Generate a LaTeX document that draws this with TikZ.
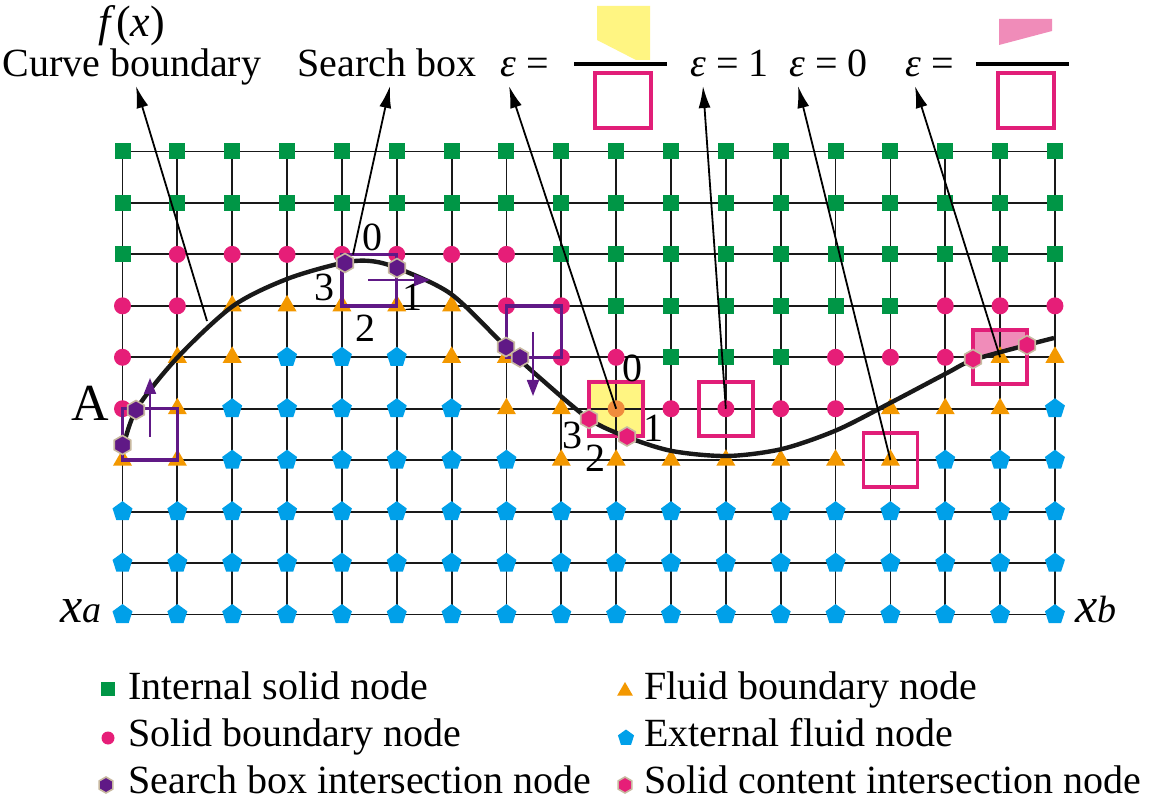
\documentclass[tikz,border=0pt]{standalone}
\usepackage{fontspec}
\setmainfont{Liberation Serif}
\usetikzlibrary{shapes.geometric,arrows.meta}
\pgfdeclarelayer{bg}
\pgfsetlayers{bg,main}
\definecolor{cgreen}{RGB}{0,150,70}
\definecolor{cpink}{RGB}{230,30,120}
\definecolor{cbox}{RGB}{225,30,120}
\definecolor{corange}{RGB}{243,152,0}
\definecolor{cblue}{RGB}{0,160,233}
\definecolor{cpurple}{RGB}{96,25,134}
\definecolor{chex}{RGB}{200,185,160}
\definecolor{cyel}{RGB}{255,245,130}
\definecolor{cpinkfill}{RGB}{240,140,185}
\definecolor{cdot}{RGB}{240,140,60}
\newcommand\gridrow[2]{%
  \foreach \t [count=\c from 0] in {#2} {%
    \node[mk\t] (n#1-\c) at ({122.5+54.85*\c},{151.5+51.45*#1}) {};}}
\begin{document}
\begin{tikzpicture}[x=0.5pt,y=-0.5pt,
  mkG/.style={rectangle,fill=cgreen,minimum size=8pt,inner sep=0pt},
  mkP/.style={circle,fill=cpink,minimum size=8.5pt,inner sep=0pt},
  mkY/.style={circle,fill=cdot,minimum size=8.5pt,inner sep=0pt},
  mkO/.style={regular polygon,regular polygon sides=3,fill=corange,minimum size=11pt,inner sep=0pt},
  mkB/.style={regular polygon,regular polygon sides=5,fill=cblue,minimum size=10.5pt,inner sep=0pt},
  hexS/.style={regular polygon,regular polygon sides=6,regular polygon rotate=30,fill=cpurple,draw=chex,line width=0.8pt,minimum size=9.5pt,inner sep=0pt},
  hexC/.style={hexS,fill=cpink},
  gl/.style={line width=0.9pt,black!90},
  pbox/.style={draw=cpurple,line width=1.7pt},
  sqbox/.style={draw=cbox,line width=1.9pt,minimum size=27pt,inner sep=0pt},
  ann/.style={line width=0.9pt,-{Latex[length=11pt,width=6pt]}},
  parr/.style={cpurple,line width=0.9pt,-{Triangle[length=8pt,width=6pt]}},
  txt/.style={font=\fontsize{20}{24}\selectfont,inner sep=0pt},
  num/.style={font=\fontsize{20}{24}\selectfont,inner sep=0pt}
]
\useasboundingbox (0,0) rectangle (1156,801);

% grid nodes
\gridrow{0}{G,G,G,G,G,G,G,G,G,G,G,G,G,G,G,G,G,G}
\gridrow{1}{G,G,G,G,G,G,G,G,G,G,G,G,G,G,G,G,G,G}
\gridrow{2}{G,P,P,P,P,P,P,P,G,G,G,G,G,G,G,G,G,G}
\gridrow{3}{P,P,O,O,O,O,O,P,P,G,G,G,G,G,G,P,P,P}
\gridrow{4}{P,O,O,B,B,B,O,O,P,P,G,G,G,P,P,P,O,O}
\gridrow{5}{P,O,B,B,B,B,B,O,O,Y,P,P,P,P,O,O,O,B}
\gridrow{6}{O,O,B,B,B,B,B,B,O,O,O,O,O,O,O,B,B,B}
\gridrow{7}{B,B,B,B,B,B,B,B,B,B,B,B,B,B,B,B,B,B}
\gridrow{8}{B,B,B,B,B,B,B,B,B,B,B,B,B,B,B,B,B,B}
\gridrow{9}{B,B,B,B,B,B,B,B,B,B,B,B,B,B,B,B,B,B}

% solid content boxes
\node[sqbox] (q1) at (n5-9) {};
\node[sqbox] (q2) at (n5-11) {};
\node[sqbox] (q3) at (n6-14) {};
\node[sqbox] (q4) at (n4-16) {};

% intersection points
\coordinate (hA1) at (136,410);
\coordinate (hA2) at (122.5,445);
\coordinate (hB1) at (345,263);
\coordinate (hB2) at (397,268);
\coordinate (hC1) at (506,347);
\coordinate (hC2) at (520,357.5);
\coordinate (hY1) at (589,419);
\coordinate (hY2) at (627,436.5);
\coordinate (hP1) at (973,359);
\coordinate (hP2) at (1027,345);

\begin{pgfonlayer}{bg}
  \fill[white] (0,0) rectangle (1156,801);
  \fill[cyel] (q1.north west) -- (q1.north east) -- (q1.south east) -- (hY2) -- (hY1) -- cycle;
  \fill[cpinkfill] (q4.north west) -- (q4.north east) -- (hP2) -- (hP1) -- cycle;
  \foreach \c in {0,...,17} \draw[gl] (n0-\c.center) -- (n9-\c.center);
  \foreach \r in {0,...,9} \draw[gl] (n\r-0.center) -- (n\r-17.center);
\end{pgfonlayer}

% search boxes
\draw[pbox] (n5-0.center) rectangle (n6-1.center);
\draw[pbox] (n2-4.center) rectangle (n3-5.center);
\draw[pbox] (n3-7.center) rectangle (n4-8.center);

% curve
\draw[line width=2.2pt,black!90] plot[smooth,tension=0.5] coordinates {
 (122,452) (136,410) (177,358) (233,306) (287,279) (342,263) (370,261) (397,268)
 (451,294) (506,347) (540,378) (589,419) (627,437) (672,451) (727,456)
 (782,449) (837,430) (892,402) (947,373) (973,360) (1027,345) (1054,338)};

% hexagons
\node[hexS] (xA1) at (hA1) {};
\node[hexS] (xA2) at (hA2) {};
\node[hexS] (xB1) at (hB1) {};
\node[hexS] (xB2) at (hB2) {};
\node[hexS] (xC1) at (hC1) {};
\node[hexS] (xC2) at (hC2) {};
\node[hexC] (xY1) at (hY1) {};
\node[hexC] (xY2) at (hY2) {};
\node[hexC] (xP1) at (hP1) {};
\node[hexC] (xP2) at (hP2) {};

% purple direction arrows
\coordinate (pa1) at (150,437); \coordinate (pa1e) at (150,378);
\coordinate (pb1) at (368,280); \coordinate (pb1e) at (430,280);
\coordinate (pc1) at (533,332); \coordinate (pc1e) at (533,396);
\draw[parr] (pa1) -- (pa1e);
\draw[parr] (pb1) -- (pb1e);
\draw[parr] (pc1) -- (pc1e);

% labels at boxes
\node[num] (b0) at (372,237) {0};
\node[num] (b3) at (324,287) {3};
\node[num] (b1) at (412,297) {1};
\node[num] (b2) at (365,328) {2};
\node[num] (y0) at (632,368) {0};
\node[num] (y1) at (653,428) {1};
\node[num] (y3) at (572,435) {3};
\node[num] (y2) at (595,458) {2};
\node[inner sep=0pt,font=\fontsize{26}{30}\selectfont] (lA) at (90,403) {A};
\node[inner sep=0pt,anchor=base east] (xa) at (102,622) {\itshape\fontsize{25}{30}\selectfont x\fontsize{19}{22}\selectfont a};
\node[inner sep=0pt,anchor=base west] (xb) at (1075,622) {\itshape\fontsize{25}{30}\selectfont x\fontsize{19}{22}\selectfont b};

% header
\node[inner sep=0pt,font=\fontsize{22}{26}\selectfont] (fx) at (132,26) {\textit{f}(\textit{x})};
\node[txt,anchor=base west] (lcb) at (2,77) {Curve boundary};
\node[txt,anchor=base west] (lsb) at (297,77) {Search box};
\node[txt,anchor=base west] (le1) at (500,77) {\textit{ε} =};
\node[txt,anchor=base west] (le2) at (690,77) {\textit{ε} = 1};
\node[txt,anchor=base west] (le3) at (789,77) {\textit{ε} = 0};
\node[txt,anchor=base west] (le4) at (905,77) {\textit{ε} =};
\fill[cyel] (597,6) -- (650,6) -- (650,60) -- (636,60) -- (597,40) -- cycle;
\draw[line width=2pt] (574,64) -- (667,64);
\draw[draw=cbox,line width=2pt] (595,73) rectangle (651,128);
\fill[cpinkfill] (999,19) -- (1052,19) -- (1052,31) -- (999,45) -- cycle;
\draw[line width=2pt] (976,64) -- (1069,64);
\draw[draw=cbox,line width=2pt] (998,73) rectangle (1054,128);

% annotation arrows
\coordinate (s1) at (207,321); \coordinate (t1) at (136,86);
\coordinate (s2) at (353,254.5); \coordinate (t2) at (390,86);
\coordinate (t3) at (509,86);
\coordinate (t4) at (703,86);
\coordinate (t5) at (798,86);
\coordinate (t6) at (915,86);
\draw[ann] (s1) -- (t1);
\draw[ann] (s2) -- (t2);
\draw[ann] (n5-9.center) -- (t3);
\draw[ann] (n5-11.center) -- (t4);
\draw[ann] (n6-14.center) -- (t5);
\draw[ann] (n4-16.center) -- (t6);

% legend
\node[mkG,minimum size=7pt] (lg1) at (108,689) {};
\node[txt,anchor=base west] (lt1) at (128,699) {Internal solid node};
\node[mkP,minimum size=6.5pt] (lg2) at (108,738) {};
\node[txt,anchor=base west] (lt2) at (128,746) {Solid boundary node};
\node[hexS,minimum size=8pt] (lg3) at (106,785) {};
\node[txt,anchor=base west] (lt3) at (128,793) {Search box intersection node};
\node[mkO,minimum size=9pt] (lg4) at (625,691) {};
\node[txt,anchor=base west] (lt4) at (644,699) {Fluid boundary node};
\node[mkB,minimum size=8.5pt] (lg5) at (626,738) {};
\node[txt,anchor=base west] (lt5) at (644,746) {External fluid node};
\node[hexC,minimum size=8pt] (lg6) at (625,785) {};
\node[txt,anchor=base west] (lt6) at (644,793) {Solid content intersection node};
\end{tikzpicture}
\end{document}
